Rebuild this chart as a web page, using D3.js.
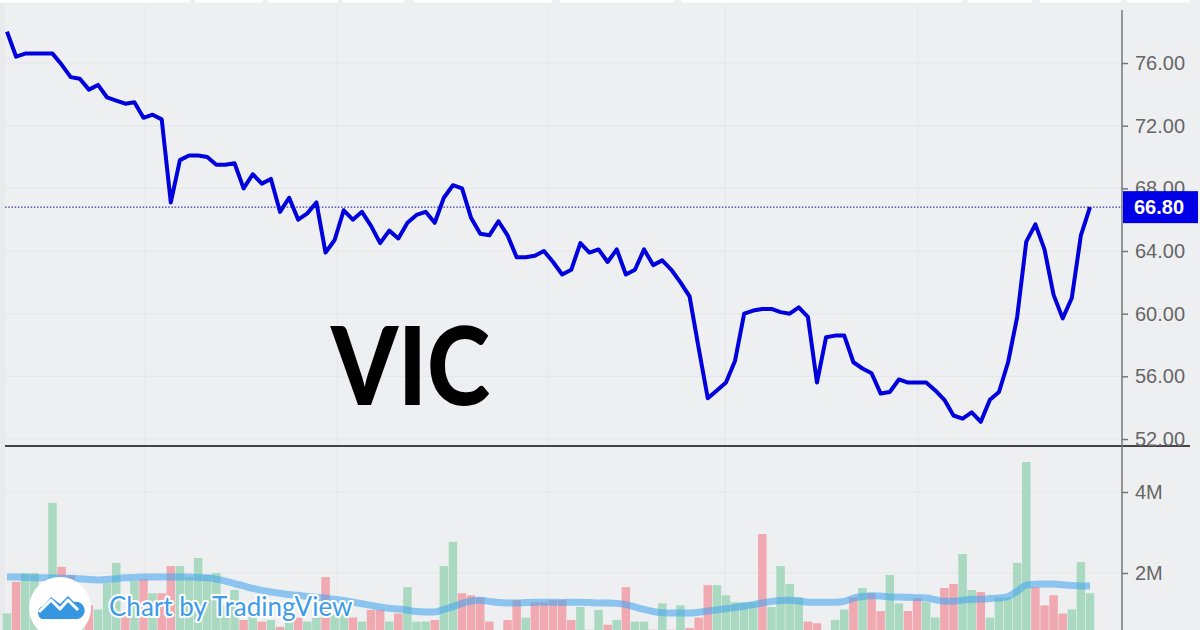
<!DOCTYPE html>
<meta charset="utf-8">
<style>
    body { margin: 0; background: #eeeff1; }
    svg { display: block; }
    .tick text { font-family: Arial, "Liberation Sans", sans-serif; font-size: 20px; fill: #666; }
    .tick line { stroke: #777; stroke-width: 1.5px; }
</style>
<script src="https://d3js.org/d3.v7.min.js"></script>
<body>
<div id="chart"></div>
<script>
    // closing prices, one per session
    var prices = [
        78.0, 76.4, 76.6, 76.6, 76.6, 76.6, 75.9, 75.1, 75.0, 74.3,
        74.6, 73.8, 73.6, 73.4, 73.5, 72.5, 72.7, 72.4, 67.1, 69.8,
        70.1, 70.1, 70.0, 69.5, 69.5, 69.6, 68.0, 68.9, 68.3, 68.6,
        66.5, 67.4, 66.0, 66.4, 67.1, 63.9, 64.7, 66.6, 66.0, 66.5,
        65.6, 64.5, 65.3, 64.8, 65.8, 66.3, 66.5, 65.8, 67.4, 68.2,
        68.0, 66.1, 65.1, 65.0, 65.9, 65.0, 63.6, 63.6, 63.7, 64.0,
        63.3, 62.5, 62.8, 64.5, 63.9, 64.1, 63.3, 64.1, 62.5, 62.8,
        64.1, 63.1, 63.4, 62.8, 62.0, 61.1, 57.8, 54.6, 55.1, 55.6,
        57.0, 60.0, 60.2, 60.3, 60.3, 60.1, 60.0, 60.4, 59.8, 55.6,
        58.5, 58.6, 58.6, 56.9, 56.5, 56.2, 54.9, 55.0, 55.8, 55.6,
        55.6, 55.6, 55.1, 54.5, 53.5, 53.3, 53.7, 53.1, 54.5, 55.0,
        56.9, 59.8, 64.6, 65.7, 64.1, 61.2, 59.7, 61.0, 65.0, 66.8
    ];

    // volume in millions of shares
    var volumes = [
        1.00, 1.78, 2.00, 2.00, 1.65, 3.73, 2.15, 1.95, 1.30, 1.20,
        1.10, 1.75, 2.25, 1.00, 1.80, 1.85, 1.50, 1.50, 2.17, 2.17,
        1.90, 2.37, 1.95, 2.00, 1.20, 1.58, 0.84, 1.00, 0.80, 0.84,
        0.67, 0.90, 0.90, 0.80, 0.90, 1.90, 1.00, 1.00, 0.90, 0.80,
        1.09, 1.09, 0.80, 1.00, 1.65, 0.80, 0.80, 0.84, 2.17, 2.77,
        1.50, 1.45, 1.40, 0.80, 0.50, 0.84, 1.33, 0.90, 1.28, 1.28,
        1.33, 1.33, 0.84, 1.16, 0.60, 1.09, 0.72, 0.84, 1.65, 0.80,
        0.80, 0.60, 1.25, 0.60, 1.20, 0.64, 0.90, 1.70, 1.70, 1.45,
        1.28, 1.28, 1.28, 2.96, 1.16, 2.17, 1.73, 1.40, 0.80, 0.76,
        0.40, 0.84, 1.10, 1.40, 1.63, 1.50, 1.06, 1.95, 1.25, 1.06,
        1.38, 1.28, 0.90, 1.63, 1.73, 2.47, 1.58, 1.53, 0.90, 1.40,
        1.40, 2.25, 4.74, 1.65, 1.20, 1.45, 1.00, 1.10, 2.27, 1.50
    ];

    // 1 = up session (green bar), 0 = down session (red bar)
    var upDays = [
        1, 0, 1, 1, 1, 1, 0, 0, 1, 0,
        1, 1, 1, 0, 1, 0, 1, 0, 0, 1,
        1, 1, 1, 1, 1, 1, 0, 1, 0, 1,
        0, 1, 0, 1, 1, 0, 1, 1, 0, 1,
        0, 0, 1, 0, 1, 1, 1, 0, 1, 1,
        0, 0, 0, 0, 1, 0, 0, 1, 0, 0,
        0, 0, 0, 1, 1, 1, 0, 1, 0, 1,
        1, 0, 1, 0, 1, 0, 0, 0, 1, 1,
        1, 1, 1, 0, 1, 1, 1, 1, 0, 0,
        1, 1, 1, 0, 1, 0, 0, 1, 1, 0,
        0, 1, 1, 0, 0, 1, 1, 0, 1, 1,
        1, 1, 1, 0, 0, 0, 0, 1, 1, 1
    ];

    // volume moving average, millions
    var volumeMA = [
        1.90, 1.90, 1.89, 1.88, 1.88, 1.88, 1.87, 1.87, 1.86, 1.84,
        1.83, 1.84, 1.86, 1.88, 1.89, 1.90, 1.90, 1.90, 1.90, 1.90,
        1.90, 1.89, 1.88, 1.85, 1.80, 1.74, 1.68, 1.62, 1.57, 1.53,
        1.50, 1.47, 1.45, 1.42, 1.40, 1.38, 1.35, 1.32, 1.28, 1.24,
        1.20, 1.16, 1.13, 1.11, 1.08, 1.05, 1.04, 1.04, 1.10, 1.17,
        1.25, 1.31, 1.33, 1.30, 1.27, 1.26, 1.26, 1.27, 1.28, 1.28,
        1.28, 1.27, 1.28, 1.28, 1.27, 1.26, 1.26, 1.25, 1.22, 1.16,
        1.10, 1.05, 1.02, 1.01, 1.01, 1.01, 1.03, 1.06, 1.09, 1.12,
        1.15, 1.18, 1.22, 1.26, 1.30, 1.32, 1.33, 1.31, 1.28, 1.28,
        1.28, 1.28, 1.30, 1.38, 1.42, 1.44, 1.43, 1.41, 1.41, 1.40,
        1.39, 1.38, 1.34, 1.30, 1.30, 1.33, 1.35, 1.35, 1.37, 1.38,
        1.42, 1.55, 1.70, 1.72, 1.73, 1.73, 1.71, 1.69, 1.68, 1.68
    ];

    var priceTicks = [52, 56, 60, 64, 68, 72, 76];
    var volumeTicks = [2, 4];
    var lastPrice = 66.80;
    var monthLines = [15.2, 36.3, 59.4, 78.9, 100.1];   // session index of month starts
    var ticker = "VIC";

    var W = 1200, H = 630,
        left = 5, axisX = 1122,
        paneTop = 6, paneSplit = 446;

    var svg = d3.select("#chart").append("svg")
        .attr("width", W)
        .attr("height", H);

    var x = d3.scaleLinear().domain([0, prices.length - 1]).range([7, 1090]),
        y = d3.scaleLinear().domain([52, 76]).range([439, 63]),
        yv = d3.scaleLinear().domain([0, 4]).range([654, 492]);

    var step = x(1) - x(0);

    svg.append("rect").attr("width", W).attr("height", H).attr("fill", "#eeeff1");
    svg.append("rect").attr("width", left).attr("height", H).attr("fill", "#e9eaec");

    // white header strip at the very top
    var headerCuts = [[0, 190], [195, 263], [268, 338], [343, 404], [414, 552], [560, 674], [681, 962], [968, 1032], [1040, 1121], [1127, 1190]];
    svg.selectAll(".hdr").data(headerCuts).enter().append("rect")
        .attr("x", d => d[0]).attr("y", 0)
        .attr("width", d => d[1] - d[0]).attr("height", 2.5)
        .attr("fill", "#fff");

    // grid
    var grid = svg.append("g").attr("stroke", "#e4e6e9").attr("stroke-width", 1);
    grid.selectAll(".hg").data(priceTicks).enter().append("line")
        .attr("x1", left).attr("x2", axisX)
        .attr("y1", d => y(d)).attr("y2", d => y(d));
    grid.selectAll(".vg").data(volumeTicks).enter().append("line")
        .attr("x1", left).attr("x2", axisX)
        .attr("y1", d => yv(d)).attr("y2", d => yv(d));
    grid.selectAll(".mg").data(monthLines).enter().append("line")
        .attr("x1", d => x(d)).attr("x2", d => x(d))
        .attr("y1", paneTop).attr("y2", H);

    // volume pane
    var vol = svg.append("g");
    vol.selectAll("rect").data(volumes).enter().append("rect")
        .attr("x", (d, i) => x(i) - step / 2 + 0.3)
        .attr("width", step - 0.6)
        .attr("y", d => yv(d))
        .attr("height", d => yv(0) - yv(d))
        .attr("fill", (d, i) => upDays[i] ? "#a9d9c0" : "#f0a9b0");

    vol.append("path")
        .datum(volumeMA)
        .attr("fill", "none")
        .attr("stroke", "#4aa6ef")
        .attr("stroke-opacity", 0.6)
        .attr("stroke-width", 7)
        .attr("stroke-linejoin", "round")
        .attr("d", d3.line().x((d, i) => x(i)).y(d => yv(d)).curve(d3.curveMonotoneX));

    // ticker watermark
    svg.append("text")
        .attr("x", 331).attr("y", 405)
        .attr("font-family", "Lato, 'Open Sans', sans-serif")
        .attr("font-weight", 900)
        .attr("font-size", 108)
        .attr("textLength", 159)
        .attr("lengthAdjust", "spacingAndGlyphs")
        .attr("fill", "#000")
        .text(ticker);

    // last price dotted line
    svg.append("line")
        .attr("x1", left).attr("x2", axisX)
        .attr("y1", y(lastPrice)).attr("y2", y(lastPrice))
        .attr("stroke", "#4444b0")
        .attr("stroke-width", 1.3)
        .attr("stroke-dasharray", "1.6,1.6");

    // price line
    svg.append("path")
        .datum(prices)
        .attr("fill", "none")
        .attr("stroke", "#0000dd")
        .attr("stroke-width", 4)
        .attr("stroke-linejoin", "round")
        .attr("d", d3.line().x((d, i) => x(i)).y(d => y(d)));

    // pane separator
    svg.append("line")
        .attr("x1", left).attr("x2", 1190)
        .attr("y1", paneSplit).attr("y2", paneSplit)
        .attr("stroke", "#444").attr("stroke-width", 2);

    // right axes
    var pAxis = svg.append("g")
        .attr("transform", "translate(" + axisX + ",0)")
        .call(d3.axisRight(y).tickValues(priceTicks).tickFormat(d3.format(".2f")).tickSize(6).tickPadding(7));
    pAxis.select(".domain").remove();

    var vAxis = svg.append("g")
        .attr("transform", "translate(" + axisX + ",0)")
        .call(d3.axisRight(yv).tickValues(volumeTicks).tickFormat(d => d + "M").tickSize(6).tickPadding(7));
    vAxis.select(".domain").remove();

    svg.append("line")
        .attr("x1", axisX).attr("x2", axisX)
        .attr("y1", 10).attr("y2", H)
        .attr("stroke", "#777").attr("stroke-width", 1.5);

    // last price label
    var lp = svg.append("g").attr("transform", "translate(" + axisX + "," + y(lastPrice) + ")");
    lp.append("rect")
        .attr("x", 1).attr("y", -16)
        .attr("width", 75).attr("height", 32)
        .attr("fill", "#0000e6");
    lp.append("text")
        .attr("x", 12).attr("y", 7)
        .attr("font-family", "Arial, 'Liberation Sans', sans-serif")
        .attr("font-weight", "bold")
        .attr("font-size", 20)
        .attr("fill", "#fff")
        .text(d3.format(".2f")(lastPrice));

    // TradingView badge
    var logo = svg.append("g");
    logo.append("circle").attr("cx", 60).attr("cy", 608).attr("r", 31).attr("fill", "#fff");
    logo.append("path")
        .attr("d", "M42,619 a7,7 0 0 1 1,-13 l8,-9 l9,7 l8,-8 l6,6 a7,7 0 0 1 4,17 z")
        .attr("fill", "#3597e2");
    logo.append("path")
        .attr("d", "M39,612 l12,-12 l9,9 l8,-9 l10,10")
        .attr("fill", "none").attr("stroke", "#fff").attr("stroke-width", 3)
        .attr("stroke-linejoin", "round");
    logo.append("text")
        .attr("x", 109).attr("y", 616)
        .attr("font-family", "Lato, 'Open Sans', sans-serif")
        .attr("font-size", 26)
        .attr("fill", "#3d9be9")
        .attr("stroke", "#fff").attr("stroke-width", 4).attr("stroke-linejoin", "round")
        .attr("paint-order", "stroke")
        .text("Chart by TradingView");
</script>
</body>
